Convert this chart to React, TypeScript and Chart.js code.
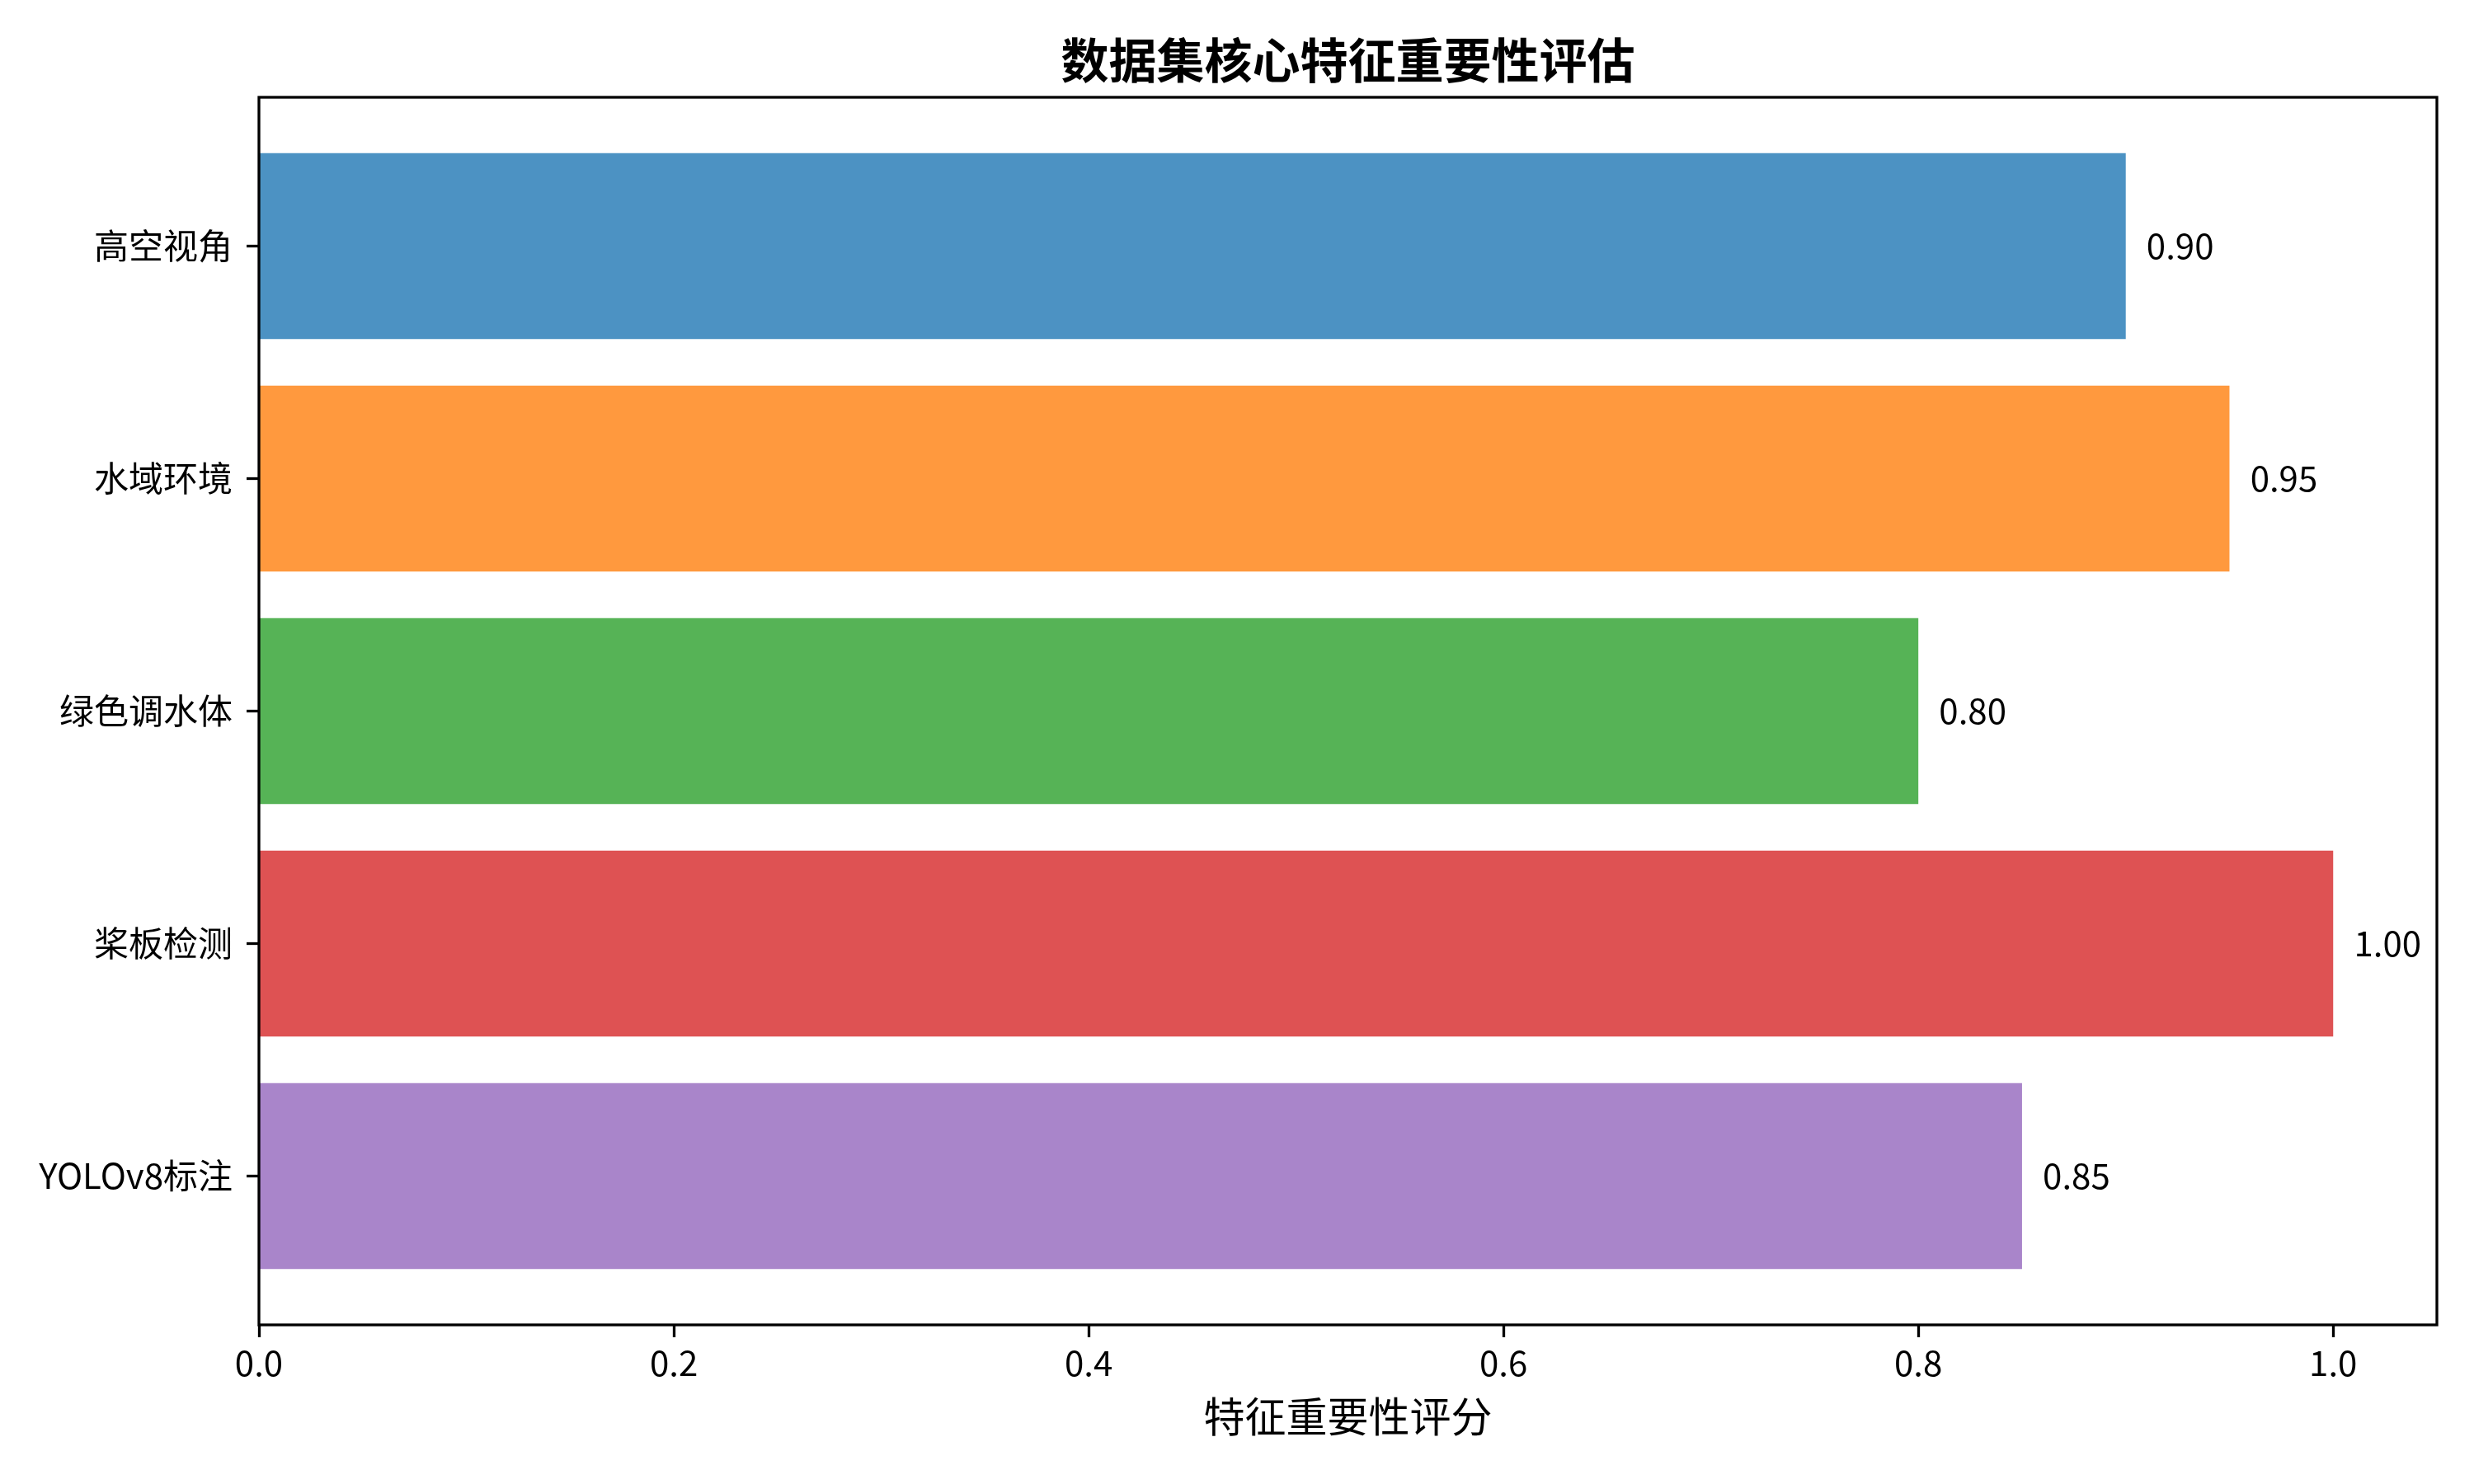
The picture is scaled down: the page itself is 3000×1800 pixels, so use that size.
import React, { useRef, useEffect } from "react";
import Chart from "chart.js/auto";

const categories = ["高空视角", "水域环境", "绿色调水体", "桨板检测", "YOLOv8标注"];
const scores = [0.9, 0.95, 0.8, 1.0, 0.85];
const barColors = [
    "rgba(31, 119, 180, 0.8)",
    "rgba(255, 127, 14, 0.8)",
    "rgba(44, 160, 44, 0.8)",
    "rgba(214, 39, 40, 0.8)",
    "rgba(148, 103, 189, 0.8)",
];
const xTicks = [0, 0.2, 0.4, 0.6, 0.8, 1.0];

const titleText = "数据集核心特征重要性评估";
const xLabel = "特征重要性评分";
const FONT = "'Noto Sans CJK SC', 'Noto Sans', sans-serif";

// axis limits like matplotlib: bar height 0.8 plus 5% margins
const barHeight = 0.8;
const ySpan = categories.length - 1 + barHeight;
const yMin = -barHeight / 2 - ySpan * 0.05;
const yMax = categories.length - 1 + barHeight / 2 + ySpan * 0.05;
const xMax = Math.max(...scores) * 1.05;

const framePlugin = {
    id: "frame",
    afterDraw(chart: any) {
        const { ctx, chartArea } = chart;
        const { left, right, top, bottom } = chartArea;
        ctx.save();
        ctx.strokeStyle = "#000";
        ctx.lineWidth = 3.3;
        ctx.strokeRect(left, top, right - left, bottom - top);

        // title centred over the axes
        ctx.fillStyle = "#000";
        ctx.font = `bold 58px ${FONT}`;
        ctx.textAlign = "center";
        ctx.textBaseline = "middle";
        ctx.fillText(titleText, (left + right) / 2, 73);

        // value labels at the end of each bar
        const xScale = chart.scales.x;
        const meta = chart.getDatasetMeta(0);
        ctx.font = `42px ${FONT}`;
        ctx.textAlign = "left";
        meta.data.forEach((bar: any, i: number) => {
            const x = xScale.getPixelForValue(scores[i] + 0.01);
            ctx.fillText(scores[i].toFixed(2), x, bar.y);
        });
        ctx.restore();
    },
};

const App = () => {
    const chartRef = useRef<HTMLCanvasElement>(null);

    useEffect(() => {
        const ctx = chartRef.current?.getContext("2d");
        if (!ctx) return;

        const myChart = new Chart(ctx, {
            type: "bar",
            data: {
                datasets: [
                    {
                        label: "score",
                        data: scores.map((v, i) => ({ x: v, y: i })),
                        backgroundColor: barColors,
                        borderWidth: 0,
                        barPercentage: barHeight,
                        categoryPercentage: 1,
                    },
                ],
            },
            options: {
                indexAxis: "y",
                animation: false,
                responsive: true,
                maintainAspectRatio: false,
                devicePixelRatio: 1,
                layout: {
                    padding: { top: 118, right: 45, left: 0, bottom: 0 },
                },
                plugins: {
                    legend: { display: false },
                    tooltip: { enabled: false },
                    title: { display: false },
                },
                scales: {
                    x: {
                        type: "linear",
                        min: 0,
                        max: xMax,
                        afterFit: (scale: any) => {
                            scale.height = 193;
                        },
                        afterBuildTicks: (scale: any) => {
                            scale.ticks = xTicks.map((v) => ({ value: v }));
                        },
                        border: { display: false },
                        grid: {
                            drawOnChartArea: false,
                            drawTicks: true,
                            tickLength: 15,
                            tickWidth: 3.3,
                            color: "#000",
                        },
                        ticks: {
                            padding: 6,
                            color: "#000",
                            font: { family: FONT, size: 42 },
                            callback: (v: any) => Number(v).toFixed(1),
                        },
                        title: {
                            display: true,
                            text: xLabel,
                            color: "#000",
                            font: { family: FONT, size: 50 },
                            padding: { top: 0, bottom: 52 },
                        },
                    },
                    y: {
                        type: "linear",
                        reverse: true,
                        offset: false,
                        min: yMin,
                        max: yMax,
                        afterFit: (scale: any) => {
                            scale.width = 314;
                        },
                        afterBuildTicks: (scale: any) => {
                            scale.ticks = categories.map((_, i) => ({ value: i }));
                        },
                        border: { display: false },
                        grid: {
                            offset: false,
                            drawOnChartArea: false,
                            drawTicks: true,
                            tickLength: 15,
                            tickWidth: 3.3,
                            color: "#000",
                        },
                        ticks: {
                            padding: 17,
                            color: "#000",
                            font: { family: FONT, size: 42 },
                            callback: (v: any) => categories[Math.round(Number(v))] ?? "",
                        },
                    },
                },
            },
            plugins: [framePlugin],
        });

        return () => {
            myChart.destroy();
        };
    }, []);

    return (
        <div style={{ position: "absolute", left: 0, top: 0, width: 3000, height: 1800, background: "#fff" }}>
            <canvas ref={chartRef}></canvas>
        </div>
    );
};

export default App;
